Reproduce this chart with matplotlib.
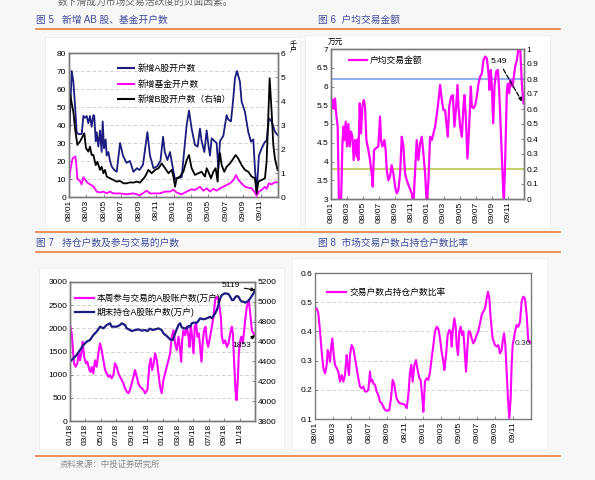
import matplotlib
matplotlib.use("Agg")
import matplotlib.pyplot as plt
from matplotlib.patches import Rectangle
from matplotlib.lines import Line2D

# ---- data (x in months since start of the window) ----
month_ticks = [0, 2, 4, 6, 8, 10, 12, 14, 16, 18, 20, 22]
labels_0809 = ["08/01", "08/03", "08/05", "08/07", "08/09", "08/11",
               "09/01", "09/03", "09/05", "09/07", "09/09", "09/11"]
labels_18 = ["01/18", "03/18", "05/18", "07/18", "09/18", "11/18",
             "01/18", "03/18", "05/18", "07/18", "09/18", "11/18"]

# fig 5: new A-share accounts (left, 10k)
a_month = [0, 0.31, 0.5, 0.69, 0.88, 1.07, 1.46, 1.65, 1.84, 2.03, 2.22, 2.41, 2.6, 2.8, 2.9,
           3.07, 3.18, 3.37, 3.56, 3.75, 3.87, 4.02, 4.21, 4.33, 4.52, 4.71, 4.9, 5.2, 5.48,
           5.86, 6.2, 6.6, 7.0, 7.4, 7.8, 8.1, 8.5, 9.0, 9.3, 9.7, 10.1, 10.5, 10.8, 11.0,
           11.3, 11.6, 12.0, 12.17, 12.94, 13.51, 13.78, 14.08, 14.46, 14.77, 15.04, 15.23,
           15.54, 15.81, 16.0, 16.19, 16.38, 16.95, 17.15, 17.34, 17.72, 18.1, 18.29, 18.6,
           18.87, 19.06, 19.29, 19.63, 19.82, 20.2, 20.59, 20.9, 21.16, 21.35, 21.55, 21.81,
           22.12, 22.5, 22.69, 22.96, 23.27, 23.65, 23.95]
a_value = [30, 70, 64, 51, 36, 35, 35, 45, 44, 45, 41, 45, 39, 45.5, 45,
           31, 36, 28, 37, 25, 42, 27, 32, 23, 25, 20, 17, 15, 14,
           30, 23, 19, 20, 14, 16, 15, 18, 36, 23, 16, 17, 20, 33.5, 25,
           20.5, 25, 14, 10, 11, 40, 48, 38, 29, 28, 38, 31,
           25, 37, 29, 23, 32.6, 30, 16, 31, 34, 45.5, 43, 42,
           55, 66, 70, 64, 53, 47.4, 36, 30.7, 32, 16, 3, 23,
           27, 30.7, 31, 43.7, 42, 36.3, 34.4]

# fig 5: new fund accounts (left, 10k)
fund_month = [0, 0.19, 0.42, 0.73, 0.84, 0.96, 1.26, 1.45, 1.65, 1.95, 2.11, 2.41, 2.79,
              3.18, 3.56, 3.94, 4.33, 4.71, 5.09, 5.85, 6.62, 7.39, 8.15, 8.92, 9.3, 10.45,
              11.02, 11.6, 11.98, 12.36, 12.94, 13.51, 14.08, 14.46, 15.04, 15.42, 15.81,
              16.19, 16.57, 16.95, 17.34, 17.72, 18.1, 18.49, 18.87, 19.2, 19.44, 19.82,
              20.2, 20.59, 20.97, 21.28, 21.55, 21.81, 22.12, 22.5, 22.69, 22.96, 23.27,
              23.58, 23.95]
fund_value = [8.5, 16, 21.5, 22.5, 18, 10, 9, 7, 11, 9, 8, 7, 6,
              3, 2.5, 3, 2, 3, 2, 2, 1.5, 2, 1, 3.5, 2, 2,
              3, 3, 4, 2.5, 1.5, 3, 4.3, 3.9, 5.7, 3.5, 4.8,
              3, 4.5, 3.5, 4.8, 5.7, 6.7, 7.6, 9.4, 12.2, 9.5, 7.6,
              5.7, 5.2, 4.8, 3, 0.7, 3, 3.9, 5.7, 4.5, 7.6, 7.0,
              8.1, 8.1]

# fig 5: new B-share accounts (right, thousand)
b_month = [0, 0.11, 0.5, 0.69, 0.96, 1.26, 1.65, 1.76, 1.95, 2.22, 2.41, 2.6, 2.8, 3.07,
           3.26, 3.56, 3.75, 3.95, 4.14, 4.33, 4.71, 5.1, 5.48, 5.86, 6.25, 6.63, 7.0, 7.4,
           7.78, 8.16, 8.74, 9.12, 9.5, 9.89, 10.27, 10.65, 11.03, 11.42, 11.8, 11.99,
           12.18, 12.36, 12.74, 13.13, 13.51, 13.78, 14.08, 14.46, 14.85, 15.23, 15.61,
           15.81, 16.0, 16.3, 16.57, 16.84, 17.07, 17.15, 17.34, 17.53, 17.83, 18.1, 18.49,
           18.87, 19.14, 19.44, 19.82, 20.2, 20.59, 20.97, 21.35, 21.55, 21.74, 22.12, 22.5,
           22.69, 22.88, 23.04, 23.27, 23.46, 23.65, 23.95]
b_value = [2.24, 4.3, 3.55, 2.86, 2.17, 2.31, 2.58, 2.65, 2.04, 1.89, 2.1, 1.75, 1.75, 1.33,
           1.47, 1.13, 1.26, 0.99, 1.13, 0.85, 0.78, 0.71, 0.64, 0.67, 0.57, 0.57, 0.61, 0.6,
           0.64, 0.6, 0.85, 1.13, 0.99, 1.13, 1.2, 1.4, 1.2, 0.99, 1.13, 0.85,
           0.43, 0.78, 0.85, 1.05, 1.54, 1.75, 1.2, 0.92, 0.99, 1.05, 0.85,
           1.2, 1.05, 0.78, 1.05, 1.2, 0.64, 1.33, 1.82, 1.33, 1.05, 1.26, 1.4,
           1.6, 1.75, 1.6, 1.33, 1.13, 1.05, 0.85, 0.78, 0.15, 0.64, 0.71, 0.78,
           1.47, 3.3, 4.95, 3.55, 2.17, 1.6, 1.13]

# fig 6: average trading amount per account (10k yuan)
amt_month = [0, 0.17, 0.29, 0.41, 0.5, 0.62, 0.83, 1.0, 1.12, 1.24, 1.41, 1.54, 1.66, 1.83,
             1.99, 2.16, 2.32, 2.49, 2.66, 2.82, 2.99, 3.2, 3.32, 3.4, 3.57, 3.73, 3.9, 4.07,
             4.23, 4.4, 4.65, 4.85, 5.06, 5.19, 5.35, 5.56, 5.89, 6.1, 6.22, 6.39, 6.64, 6.8,
             6.93, 7.14, 7.34, 7.55, 7.76, 7.97, 8.17, 8.38, 8.59, 8.8, 9.0, 9.21, 9.42, 9.71,
             10.04, 10.25, 10.46, 10.66, 10.87, 11.08, 11.29, 11.49, 11.7, 11.91, 12.12, 12.32,
             12.53, 12.74, 12.95, 13.28, 13.57, 13.78, 13.98, 14.19, 14.4, 14.52, 14.69, 14.94,
             15.15, 15.35, 15.56, 15.73, 15.85, 16.06, 16.27, 16.47, 16.6, 16.76, 16.97, 17.18,
             17.39, 17.51, 17.72, 17.93, 18.13, 18.34, 18.55, 18.76, 18.96, 19.17, 19.38, 19.59,
             19.71, 19.88, 20.0, 20.17, 20.33, 20.54, 20.75, 20.91, 21.16, 21.33, 21.49, 21.66,
             21.87, 21.99, 22.16, 22.32, 22.57, 22.74, 22.9, 23.11, 23.32, 23.53, 23.73, 23.94]
amt_value = [5.73, 5.42, 5.64, 5.4, 5.68, 5.33, 4.93, 2.8, 2.8, 2.8, 4.4, 4.93, 4.57, 5.06,
             4.4, 5.0, 4.4, 4.8, 4.66, 4.04, 4.57, 4.13, 4.6, 4.04, 5.55, 4.75, 5.46, 5.64,
             5.46, 4.57, 4.3, 4.04, 3.68, 3.33, 4.3, 4.35, 4.4, 5.2, 4.57, 4.4, 4.57, 4.3,
             3.77, 3.5, 3.6, 3.9, 3.68, 3.33, 3.15, 3.24, 3.68, 4.66, 4.4, 3.68, 3.5, 3.33,
             3.15, 2.85, 3.77, 4.57, 4.04, 4.48, 4.66, 4.22, 3.68, 2.85, 3.5, 4.66,
             4.57, 4.75, 4.93, 5.46, 6.04, 5.64, 5.37, 5.37, 4.93, 4.66, 5.46, 5.73,
             5.77, 4.93, 5.46, 6.04, 5.46, 4.93, 4.66, 5.46, 5.77, 5.2, 4.08, 4.93,
             6.0, 5.46, 5.42, 5.5, 5.73, 6.08, 6.26, 6.35, 6.7, 6.8, 6.75, 6.35,
             5.91, 6.44, 6.0, 5.02, 6.0, 6.4, 6.44, 5.91, 4.57, 3.68, 2.85, 4.04,
             5.9, 6.08, 5.82, 6.17, 6.0, 6.26, 6.53, 6.7, 7.02, 7.02, 6.08, 5.55]
ref_levels = [0.8, 0.2]

# fig 7: accounts trading this week (left, 10k) and accounts holding (right, 10k)
trade_month = [0, 0.22, 0.35, 0.52, 0.74, 0.95, 1.13, 1.3, 1.52, 1.65, 1.82, 2.08, 2.25, 2.51,
               2.68, 2.81, 3.03, 3.25, 3.46, 3.68, 3.9, 4.11, 4.33, 4.55, 4.76, 4.98, 5.19,
               5.41, 5.63, 5.84, 6.06, 6.28, 6.49, 6.71, 6.93, 7.14, 7.36, 7.58, 7.79, 8.0,
               8.23, 8.44, 8.66, 8.87, 9.09, 9.31, 9.52, 9.74, 10.04, 10.3, 10.48, 10.65,
               10.82, 11.04, 11.26, 11.47, 11.69, 11.9, 12.12, 12.34, 12.55, 12.77, 12.99,
               13.2, 13.42, 13.64, 13.85, 14.07, 14.29, 14.42, 14.55, 14.72, 14.94, 15.15,
               15.37, 15.5, 15.67, 15.84, 16.02, 16.19, 16.36, 16.54, 16.71, 16.88, 17.06,
               17.23, 17.4, 17.58, 17.75, 17.92, 18.18, 18.4, 18.61, 18.83, 19.05, 19.26,
               19.39, 19.57, 19.7, 19.91, 20.13, 20.35, 20.56, 20.78, 21.0, 21.13, 21.3,
               21.47, 21.6, 21.77, 21.9, 22.08, 22.25, 22.42, 22.6, 22.73, 22.94, 23.07,
               23.2, 23.38, 23.59, 23.81, 24.0]
trade_value = [2070, 1890, 1600, 1245, 1170, 1245, 1460, 1310, 1530, 1710, 1390, 1245, 1280, 1100,
               1060, 1170, 1030, 1310, 1170, 1460, 1675, 1530, 1310, 1100, 1030, 955, 990,
               920, 990, 1245, 1170, 1030, 955, 885, 810, 705, 635, 600, 670, 810,
               955, 1100, 955, 810, 740, 705, 670, 600, 670, 1210, 1350, 1100,
               1210, 1460, 1310, 1030, 740, 600, 885, 1030, 1170, 1310, 1460,
               1820, 1960, 1675, 1530, 1820, 1530, 1280, 1740, 1960, 1850, 2035,
               1820, 1600, 2070, 1820, 1460, 2035, 2105, 1820, 1890, 1600, 1280,
               1740, 1960, 2035, 1740, 1600, 1820, 2035, 2250, 2610, 2680, 2610,
               2470, 2250, 1820, 1675, 1740, 1600, 1675, 1890, 2035, 1890, 1245,
               670, 450, 885, 1460, 1740, 1820, 1675, 1960, 2180, 2470, 2540,
               2610, 2320, 1960, 1890, 1853]
hold_month = [0, 0.43, 0.87, 1.3, 1.73, 2.16, 2.6, 3.03, 3.46, 3.9, 4.33, 4.76, 5.19, 5.41,
              6.06, 6.49, 6.71, 7.14, 7.36, 7.79, 8.0, 8.44, 8.87, 9.31, 9.74, 10.04, 10.39,
              10.74, 11.04, 11.47, 11.9, 12.12, 12.55, 12.99, 13.33, 13.64, 14.07, 14.29,
              14.5, 14.81, 15.15, 15.37, 15.58, 15.8, 16.02, 16.45, 16.67, 16.88, 17.32,
              17.75, 18.18, 18.4, 18.61, 18.83, 19.05, 19.26, 19.48, 19.7, 19.91, 20.13,
              20.56, 20.78, 21.0, 21.21, 21.43, 21.65, 21.86, 22.08, 22.29, 22.51, 22.73,
              23.03, 23.38, 23.81, 24.0]
hold_value = [4398, 4431, 4465, 4515, 4565, 4599, 4616, 4666, 4700, 4750, 4733, 4767, 4784, 4750,
              4750, 4767, 4784, 4767, 4733, 4716, 4706, 4716, 4723, 4710, 4716, 4706, 4730,
              4716, 4723, 4733, 4716, 4683, 4656, 4622, 4616, 4683, 4767, 4784,
              4743, 4733, 4733, 4757, 4750, 4784, 4790, 4790, 4810, 4834, 4824,
              4834, 4850, 4834, 4857, 4884, 4918, 4968, 5035, 5069, 5079, 5086,
              5079, 5052, 5019, 5019, 5046, 5059, 5052, 5019, 5002, 5002, 4992,
              5002, 5035, 5086, 5119]

# fig 8: ratio of trading accounts to holding accounts
ratio_month = [0, 0.19, 0.37, 0.56, 0.74, 0.93, 1.11, 1.3, 1.41, 1.56, 1.67, 1.78, 1.93, 2.04,
               2.22, 2.41, 2.59, 2.78, 2.96, 3.15, 3.33, 3.52, 3.63, 3.78, 3.89, 4.07, 4.26,
               4.44, 4.63, 4.81, 5.0, 5.19, 5.37, 5.56, 5.74, 5.93, 6.11, 6.22, 6.37, 6.48,
               6.67, 6.85, 7.04, 7.22, 7.41, 7.59, 7.78, 8.04, 8.26, 8.44, 8.63, 8.78, 8.93,
               9.07, 9.26, 9.44, 9.81, 10.0, 10.19, 10.37, 10.56, 10.7, 10.85, 11.04, 11.22,
               11.37, 11.59, 11.74, 11.93, 12.04, 12.22, 12.41, 12.59, 12.78, 12.96, 13.15,
               13.33, 13.52, 13.7, 13.89, 14.07, 14.26, 14.37, 14.56, 14.74, 14.93, 15.07,
               15.19, 15.3, 15.48, 15.63, 15.74, 15.89, 16.04, 16.19, 16.33, 16.48, 16.59,
               16.78, 16.93, 17.07, 17.22, 17.41, 17.59, 17.78, 17.96, 18.15, 18.33, 18.52,
               18.7, 18.89, 19.07, 19.22, 19.37, 19.52, 19.74, 20.0, 20.19, 20.37, 20.56,
               20.74, 20.85, 21.0, 21.15, 21.3, 21.44, 21.59, 21.74, 21.85, 21.96, 22.11,
               22.22, 22.41, 22.59, 22.78, 22.96, 23.15, 23.33, 23.52, 23.7, 23.89, 24.0]
ratio_value = [0.479, 0.479, 0.462, 0.4, 0.331, 0.274, 0.256, 0.285, 0.336, 0.319, 0.296, 0.342,
               0.376, 0.331, 0.285, 0.274, 0.262, 0.228, 0.251, 0.228, 0.251, 0.319, 0.285,
               0.251, 0.319, 0.353, 0.342, 0.308, 0.274, 0.24, 0.211, 0.205, 0.211, 0.194,
               0.194, 0.2, 0.262, 0.228, 0.234, 0.222, 0.217, 0.194, 0.182, 0.159, 0.154,
               0.142, 0.131, 0.128, 0.131, 0.171, 0.234, 0.222, 0.194, 0.171, 0.159, 0.154,
               0.151, 0.148, 0.137, 0.182, 0.262, 0.285, 0.228, 0.285, 0.302, 0.274, 0.24,
               0.234, 0.171, 0.125, 0.228, 0.24, 0.234, 0.262, 0.308, 0.353, 0.4, 0.416,
               0.41, 0.376, 0.331, 0.296, 0.268, 0.319, 0.388, 0.405, 0.4, 0.348, 0.4,
               0.445, 0.416, 0.353, 0.319, 0.4, 0.416, 0.388, 0.4, 0.353, 0.262, 0.342,
               0.4, 0.4, 0.376, 0.359, 0.37, 0.388, 0.4, 0.428, 0.456, 0.468, 0.479,
               0.513, 0.536, 0.513, 0.445, 0.376, 0.353, 0.348, 0.353, 0.325, 0.336, 0.365,
               0.393, 0.353, 0.262, 0.171, 0.102, 0.171, 0.285, 0.353, 0.376, 0.4, 0.422,
               0.416, 0.433, 0.502, 0.519, 0.513, 0.456, 0.365, 0.365, 0.36]

# ---- styling ----
plt.rcParams['font.family'] = ['Liberation Sans', 'Noto Sans CJK SC']
W, H = 595, 480
NAVY = '#1b1b80'
MAGENTA = '#ff00ff'
ORANGE = '#e8874f'
TITLE = '#3f4c9e'
SPINE = '#7a7a7a'


def rect(l, t, r, b):
    return [l / W, 1 - b / H, (r - l) / W, (b - t) / H]


def style_axes(ax, yticks=None, ylabels=None, grid=True):
    for s in ax.spines.values():
        s.set_color(SPINE)
        s.set_linewidth(1.0)
    ax.tick_params(direction='in', length=2, width=0.6, color=SPINE, labelsize=6, pad=2)
    if yticks is not None:
        ax.set_yticks(yticks)
        ax.set_yticklabels(ylabels)
    if grid:
        ax.yaxis.grid(True, ls=(0, (4, 3)), color='#c9c9c9', lw=0.6)


def style_x(ax, labels):
    ax.set_xlim(0, 24)
    ax.set_xticks(month_ticks)
    ax.set_xticklabels(labels, rotation=90)


fig = plt.figure(figsize=(W / 100, H / 100), dpi=100)
fig.patch.set_facecolor('#f7f7f7')

# white panel boxes (behind the axes)
for l, t, r, b in [(45, 37, 300, 228), (305, 35, 550, 228), (39, 268, 284, 449), (292, 258, 547, 450)]:
    fig.patches.append(Rectangle((l / W, 1 - b / H), (r - l) / W, (b - t) / H,
                                 transform=fig.transFigure, facecolor='white',
                                 edgecolor='#ececec', lw=0.5, zorder=-5))
# orange rules
for y in [28.5, 232, 252, 456]:
    fig.add_artist(Line2D([36 / W, 560 / W], [1 - y / H, 1 - y / H], color=ORANGE, lw=1.3))

fig.text(58 / W, 1 - 2 / H, "数下滑成为市场交易活跃度的负面因素。", fontsize=7, color='#666', va='center')
fig.text(36 / W, 1 - 20 / H, "图 5   新增 AB 股、基金开户数", fontsize=7, color=TITLE, va='center')
fig.text(318 / W, 1 - 20 / H, "图 6  户均交易金额", fontsize=7, color=TITLE, va='center')
fig.text(36 / W, 1 - 243 / H, "图 7   持仓户数及参与交易的户数", fontsize=7, color=TITLE, va='center')
fig.text(318 / W, 1 - 243 / H, "图 8  市场交易户数占持仓户数比率", fontsize=7, color=TITLE, va='center')
fig.text(60 / W, 1 - 465 / H, "资料来源：中投证券研究所", fontsize=6, color='#888', va='center')

# ---- fig 5 ----
ax1 = fig.add_axes(rect(69, 53, 278, 197))
ax1.plot(fund_month, fund_value, color=MAGENTA, lw=1.3)
ax1.plot(a_month, a_value, color=NAVY, lw=1.3)
ax1.set_ylim(0, 80)
style_axes(ax1, range(0, 81, 10), [str(v) for v in range(0, 81, 10)])
style_x(ax1, labels_0809)
ax1r = ax1.twinx()
ax1r.plot(b_month, b_value, color='black', lw=1.3)
ax1r.set_ylim(0, 6)
style_axes(ax1r, range(0, 7), [str(v) for v in range(0, 7)], grid=False)
fig.text(293 / W, 1 - 48 / H, "千\n户", fontsize=5, ha='center', va='center', linespacing=0.9)
h1 = [Line2D([], [], color=NAVY, lw=1.5), Line2D([], [], color=MAGENTA, lw=1.5),
      Line2D([], [], color='black', lw=1.5)]
ax1r.legend(h1, ["新增A股开户数", "新增基金开户数", "新增B股开户数（右轴）"], loc='upper left',
            bbox_to_anchor=((118 - 69) / 209, 1 - (64 - 53) / 144), frameon=False, fontsize=6.3,
            handlelength=1.8, handletextpad=0.5, labelspacing=0.75, borderpad=0, borderaxespad=0)

# ---- fig 6 ----
ax2 = fig.add_axes(rect(331, 49, 524, 199))
ax2r = ax2.twinx()
for lvl, c in zip(ref_levels, ['#86a6ee', '#c4cc5a']):
    ax2r.axhline(lvl, color=c, lw=1.3)
ax2r.set_ylim(0, 1)
style_axes(ax2r, [i / 10 for i in range(11)], ["0"] + [f"{i / 10:g}" for i in range(1, 10)] + ["1"], grid=False)
ax2.set_zorder(ax2r.get_zorder() + 1)
ax2.patch.set_visible(False)
ax2.plot(amt_month, amt_value, color=MAGENTA, lw=1.6)
ax2.set_ylim(3, 7)
style_axes(ax2, [3 + i * 0.5 for i in range(9)], [f"{3 + i * 0.5:g}" for i in range(9)], grid=False)
style_x(ax2, labels_0809)
fig.text(328 / W, 1 - 43 / H, "万元", fontsize=5.5, va='center')
ax2.legend([Line2D([], [], color=MAGENTA, lw=1.6)], ["户均交易金额"], loc='upper left',
           bbox_to_anchor=((349 - 331) / 193, 1 - (56 - 49) / 150), frameon=False, fontsize=6.3,
           handlelength=2.0, handletextpad=0.4, borderpad=0, borderaxespad=0)
ax2.annotate("5.49", xy=(amt_month[-1] - 0.2, 5.6), xytext=(20.9, 6.66), fontsize=6,
             ha='center', va='center',
             arrowprops=dict(arrowstyle='-|>', ls='--', color='black', lw=0.9, mutation_scale=5,
                             shrinkA=1, shrinkB=0))

# ---- fig 7 ----
ax3 = fig.add_axes(rect(70, 282, 255, 421))
ax3.plot(trade_month, trade_value, color=MAGENTA, lw=1.5)
ax3.set_ylim(0, 3000)
style_axes(ax3, range(0, 3001, 500), [str(v) for v in range(0, 3001, 500)])
style_x(ax3, labels_18)
ax3r = ax3.twinx()
ax3r.plot(hold_month, hold_value, color=NAVY, lw=1.6)
ax3r.set_ylim(3800, 5200)
style_axes(ax3r, range(3800, 5201, 200), [str(v) for v in range(3800, 5201, 200)], grid=False)
ax3r.legend([Line2D([], [], color=MAGENTA, lw=1.6), Line2D([], [], color=NAVY, lw=1.6)],
            ["本周参与交易的A股账户数(万户)", "期末持仓A股账户数(万户)"], loc='upper left',
            bbox_to_anchor=((75 - 70) / 185, 1 - (294 - 282) / 139), frameon=False, fontsize=6.2,
            handlelength=2.2, handletextpad=0.3, labelspacing=0.45, borderpad=0, borderaxespad=0)
ax3r.annotate(str(hold_value[-1]), xy=(hold_month[-1], hold_value[-1]), xytext=(20.9, 5160),
              fontsize=6, ha='center', va='center',
              arrowprops=dict(arrowstyle='-|>', color='black', lw=0.8, mutation_scale=5,
                              shrinkA=1, shrinkB=0))
ax3.annotate(str(trade_value[-1]), xy=(trade_month[-1], trade_value[-1]), xytext=(22.3, 1630),
             fontsize=6, ha='center', va='center',
             arrowprops=dict(arrowstyle='-|>', color='black', lw=0.8, mutation_scale=5,
                             shrinkA=1, shrinkB=0))

# ---- fig 8 ----
ax4 = fig.add_axes(rect(315, 273, 531, 419))
ax4.plot(ratio_month, ratio_value, color=MAGENTA, lw=1.5)
ax4.set_ylim(0.1, 0.6)
style_axes(ax4, [0.1, 0.2, 0.3, 0.4, 0.5, 0.6], ["0.1", "0.2", "0.3", "0.4", "0.5", "0.6"])
style_x(ax4, labels_0809)
ax4.legend([Line2D([], [], color=MAGENTA, lw=1.6)], ["交易户数占持仓户数比率"], loc='upper left',
           bbox_to_anchor=((327 - 315) / 216, 1 - (288 - 273) / 146), frameon=False, fontsize=6.3,
           handlelength=2.2, handletextpad=0.4, borderpad=0, borderaxespad=0)
ax4.text(24, ratio_value[-1], f"{ratio_value[-1]:.2f}", fontsize=6, ha='right', va='center',
         color='#333')

fig.savefig("out.png", dpi=100, facecolor=fig.get_facecolor())
